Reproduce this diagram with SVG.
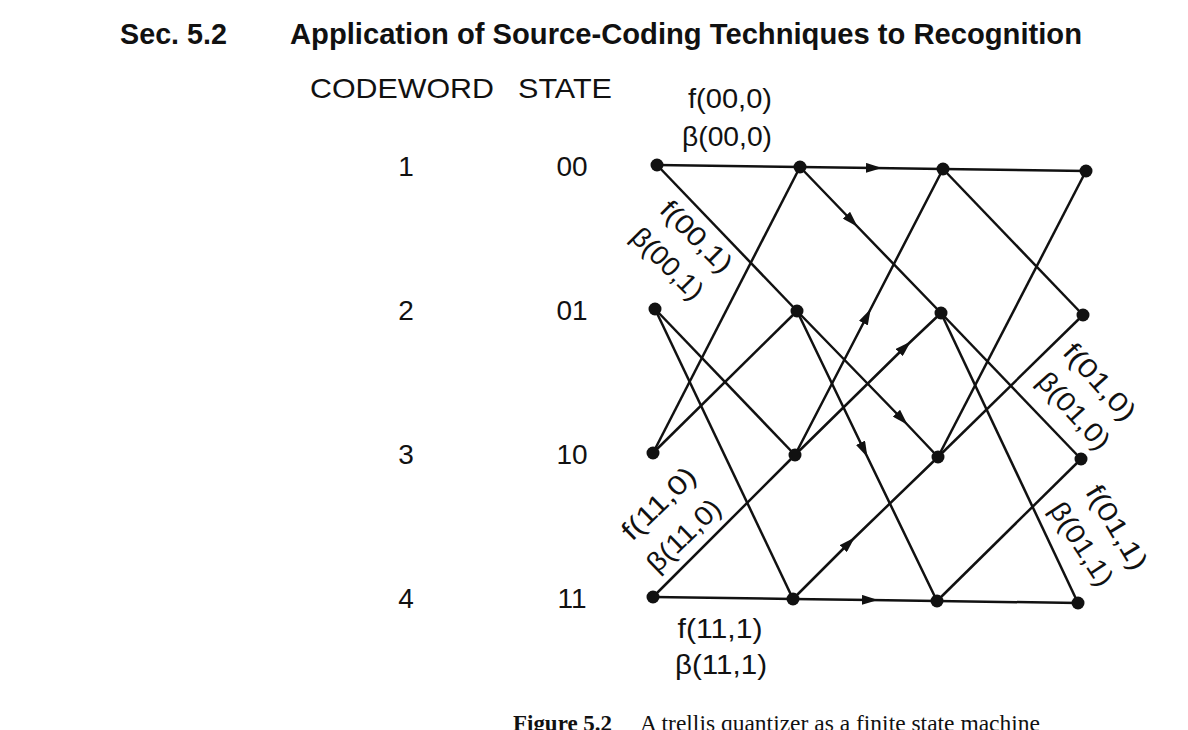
<svg xmlns="http://www.w3.org/2000/svg" width="1188" height="730" viewBox="0 0 1188 730">
<defs>
<style>
.hdr{font-family:"Liberation Sans",Arial,sans-serif;font-weight:bold;font-size:29px;fill:#111}
.col{font-family:"Liberation Sans",Arial,sans-serif;font-size:28px;fill:#111}
.lbl{font-family:"Liberation Sans",Arial,sans-serif;font-size:27px;fill:#111;text-anchor:middle}
.cap{font-family:"Liberation Serif","Times New Roman",serif;font-size:23px;fill:#111}
.edge{stroke:#111;stroke-width:2.5;fill:none}
.arr{stroke:#111;stroke-width:2.5;fill:none;marker-mid:url(#ah)}
.node{fill:#111}
</style>
<marker id="ah" viewBox="0 0 16 10" refX="8" refY="5" markerWidth="16" markerHeight="10" markerUnits="userSpaceOnUse" orient="auto">
<path d="M0,0 L16,5 L0,10 Z" fill="#111"/>
</marker>
</defs>
<rect width="1188" height="730" fill="#fff"/>

<g id="header">
<text class="hdr" x="120" y="44" textLength="107" lengthAdjust="spacingAndGlyphs">Sec. 5.2</text>
<text class="hdr" x="290" y="44" textLength="792" lengthAdjust="spacingAndGlyphs">Application of Source-Coding Techniques to Recognition</text>
</g>

<g id="column-headers">
<text class="col" x="310" y="98" textLength="184" lengthAdjust="spacingAndGlyphs">CODEWORD</text>
<text class="col" x="518" y="98" textLength="94" lengthAdjust="spacingAndGlyphs">STATE</text>
</g>

<g id="row-labels" class="col" text-anchor="middle">
<text x="406" y="176">1</text><text x="572" y="176">00</text>
<text x="406" y="320">2</text><text x="572" y="320">01</text>
<text x="406" y="464">3</text><text x="572" y="464">10</text>
<text x="406" y="608">4</text><text x="572" y="608">11</text>
</g>

<g id="connectors">
<!-- stage 1 -->
<path class="edge" d="M657,165 L800,167"/>
<path class="edge" d="M657,165 L797,311"/>
<path class="edge" d="M655,309 L795,455"/>
<path class="edge" d="M655,309 L793,599"/>
<path class="edge" d="M653,453 L800,167"/>
<path class="edge" d="M653,453 L797,311"/>
<path class="edge" d="M653,597 L795,455"/>
<path class="edge" d="M653,597 L793,599"/>
<!-- stage 2 (with arrows) -->
<path class="arr" d="M800,167 L874,168 L943,169"/>
<path class="arr" d="M800,167 L852,221 L941,313"/>
<path class="arr" d="M797,311 L902,419 L938,457"/>
<path class="arr" d="M797,311 L864,450 L937,601"/>
<path class="arr" d="M795,455 L867,316 L943,169"/>
<path class="arr" d="M795,455 L905,347 L941,313"/>
<path class="arr" d="M793,599 L849,543 L938,457"/>
<path class="arr" d="M793,599 L870,600 L937,601"/>
<!-- stage 3 -->
<path class="edge" d="M943,169 L1086,171"/>
<path class="edge" d="M943,169 L1083,315"/>
<path class="edge" d="M941,313 L1081,459"/>
<path class="edge" d="M941,313 L1078,603"/>
<path class="edge" d="M938,457 L1086,171"/>
<path class="edge" d="M938,457 L1083,315"/>
<path class="edge" d="M937,601 L1081,459"/>
<path class="edge" d="M937,601 L1078,603"/>
</g>

<g id="node-c0-00"><circle class="node" cx="657" cy="165" r="6.5"/></g>
<g id="node-c0-01"><circle class="node" cx="655" cy="309" r="6.5"/></g>
<g id="node-c0-10"><circle class="node" cx="653" cy="453" r="6.5"/></g>
<g id="node-c0-11"><circle class="node" cx="653" cy="597" r="6.5"/></g>
<g id="node-c1-00"><circle class="node" cx="800" cy="167" r="6.5"/></g>
<g id="node-c1-01"><circle class="node" cx="797" cy="311" r="6.5"/></g>
<g id="node-c1-10"><circle class="node" cx="795" cy="455" r="6.5"/></g>
<g id="node-c1-11"><circle class="node" cx="793" cy="599" r="6.5"/></g>
<g id="node-c2-00"><circle class="node" cx="943" cy="169" r="6.5"/></g>
<g id="node-c2-01"><circle class="node" cx="941" cy="313" r="6.5"/></g>
<g id="node-c2-10"><circle class="node" cx="938" cy="457" r="6.5"/></g>
<g id="node-c2-11"><circle class="node" cx="937" cy="601" r="6.5"/></g>
<g id="node-c3-00"><circle class="node" cx="1086" cy="171" r="6.5"/></g>
<g id="node-c3-01"><circle class="node" cx="1083" cy="315" r="6.5"/></g>
<g id="node-c3-10"><circle class="node" cx="1081" cy="459" r="6.5"/></g>
<g id="node-c3-11"><circle class="node" cx="1078" cy="603" r="6.5"/></g>

<g id="edge-labels" class="lbl">
<text x="730" y="108" textLength="84" lengthAdjust="spacingAndGlyphs">f(00,0)</text>
<text x="727" y="146" textLength="90" lengthAdjust="spacingAndGlyphs">β(00,0)</text>
<text transform="translate(690,243) rotate(45)" textLength="90" lengthAdjust="spacingAndGlyphs">f(00,1)</text>
<text transform="translate(661,270) rotate(45)" textLength="90" lengthAdjust="spacingAndGlyphs">β(00,1)</text>
<text transform="translate(665,510) rotate(-44)" textLength="92" lengthAdjust="spacingAndGlyphs">f(11,0)</text>
<text transform="translate(690,542) rotate(-44)" textLength="92" lengthAdjust="spacingAndGlyphs">β(11,0)</text>
<text transform="translate(1093,388) rotate(48)" textLength="94" lengthAdjust="spacingAndGlyphs">f(01,0)</text>
<text transform="translate(1067,417) rotate(48)" textLength="94" lengthAdjust="spacingAndGlyphs">β(01,0)</text>
<text transform="translate(1109,532) rotate(59)" textLength="94" lengthAdjust="spacingAndGlyphs">f(01,1)</text>
<text transform="translate(1074,549) rotate(57)" textLength="94" lengthAdjust="spacingAndGlyphs">β(01,1)</text>
<text x="720" y="638" textLength="85" lengthAdjust="spacingAndGlyphs">f(11,1)</text>
<text x="721" y="674" textLength="92" lengthAdjust="spacingAndGlyphs">β(11,1)</text>
</g>

<g id="caption">
<text class="cap" x="513" y="731" font-weight="bold" textLength="99" lengthAdjust="spacingAndGlyphs">Figure 5.2</text>
<text class="cap" x="640" y="731" textLength="400" lengthAdjust="spacingAndGlyphs">A trellis quantizer as a finite state machine</text>
</g>
</svg>
